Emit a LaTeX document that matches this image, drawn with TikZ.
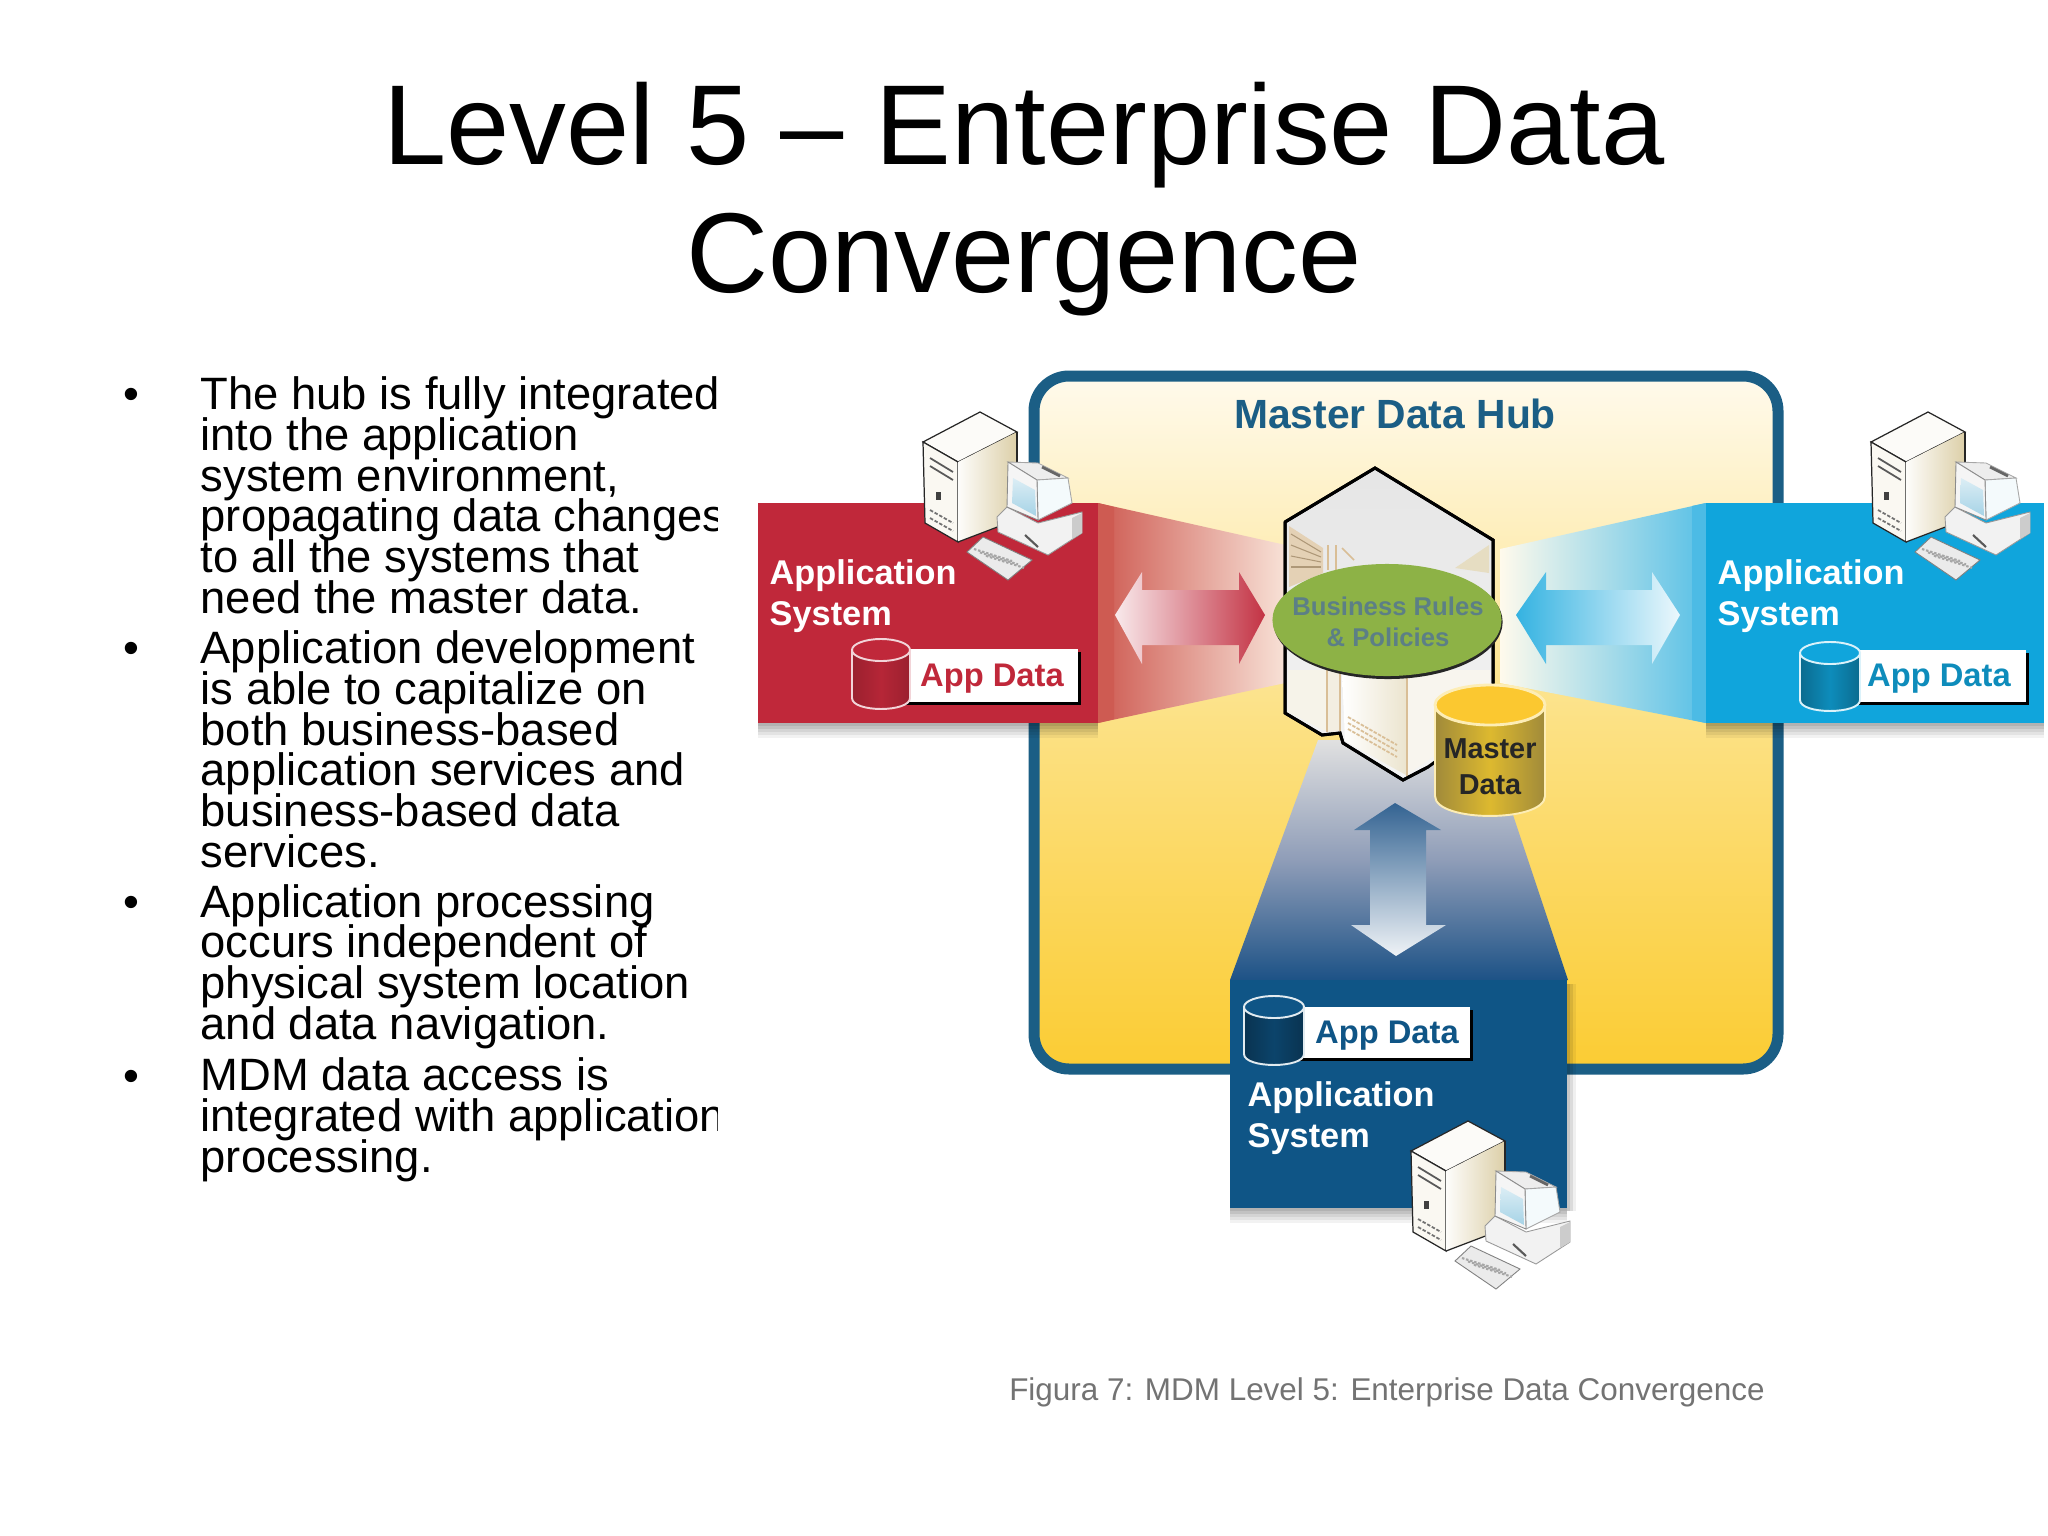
\documentclass[tikz,border=0pt]{standalone}
\usepackage{fontspec}
\setmainfont{Liberation Sans}
\usetikzlibrary{shapes.geometric}
\definecolor{hubedge}{HTML}{1B5E85}
\definecolor{hubtop}{HTML}{FFFAEC}
\definecolor{hubmid}{HTML}{FCE184}
\definecolor{hubbot}{HTML}{FBCC33}
\definecolor{redbox}{HTML}{C0283A}
\definecolor{redbeam}{HTML}{CE5B52}
\definecolor{cyanbox}{HTML}{10A5DC}
\definecolor{navybox}{HTML}{0F5586}
\definecolor{navybeam}{HTML}{1D5286}
\definecolor{navymid}{HTML}{8F9DB8}
\definecolor{rulegreen}{HTML}{8DB246}
\definecolor{rulegrey}{HTML}{5C7F86}
\definecolor{towertan}{HTML}{DCCFA8}
\definecolor{servertan}{HTML}{D9BE96}
\definecolor{goldside}{HTML}{A08A3A}
\definecolor{goldmid}{HTML}{DDB92F}
\definecolor{screenblue}{HTML}{A6D3E6}
\tikzset{
    titletext/.style={align=center, inner sep=0, font=\fontsize{32.3}{36.4}\selectfont},
    bodytext/.style={anchor=base west, align=left, inner sep=0, font={\fontsize{12.9}{11.55}\selectfont\lineskiplimit -20pt\relax}},
    bullettext/.style={anchor=base, inner sep=0, font=\fontsize{12.9}{11.55}\selectfont},
    systemtext/.style={anchor=west, align=left, inner sep=0, text=white, font=\fontsize{9.76}{11.7}\selectfont\bfseries},
    datatext/.style={inner sep=0, font=\fontsize{9.3}{11}\selectfont\bfseries},
    thinedge/.style={draw=black!85, line width=0.35pt},
    panelline/.style={draw=servertan, line width=0.5pt},
}
\newcommand{\appdrum}[8]{
    \shade[left color=#6, right color=#6, middle color=#7]
        ({#1-#4},#2) -- ({#1-#4},#3) .. controls ({#1-#4},{#3+1.33*#5}) and ({#1+#4},{#3+1.33*#5}) .. ({#1+#4},#3) -- ({#1+#4},#2) -- cycle;
    \draw[draw=#8, line width=0.55pt]
        ({#1-#4},#2) -- ({#1-#4},#3) .. controls ({#1-#4},{#3+1.33*#5}) and ({#1+#4},{#3+1.33*#5}) .. ({#1+#4},#3) -- ({#1+#4},#2);
}
\newcommand{\boxshadow}[3]{
    \foreach \s/\o in {0/0.30, 3/0.24, 6/0.17, 9/0.11, 12/0.05}
        \fill[black, opacity=\o] (#1,{#3+\s}) rectangle (#2,{#3+\s+3});
}
\newcommand{\deskpc}[2]{
    \begin{scope}[shift={(#1,#2)}]
        \fill[draw=black!85, line width=0.35pt, fill=white!92!towertan] (980,412) -- (923,442) -- (958,462) -- (1017,432) -- cycle;
        \fill[draw=black!85, line width=0.35pt, fill=white!85!towertan] (923,442) -- (958,462) -- (958,542) -- (925,523) -- cycle;
        \shade[left color=white!95!towertan, right color=towertan] (958,462) -- (1017,432) -- (1017,520) -- (958,542) -- cycle;
        \draw[thinedge] (1017,432) -- (1017,480);
        \draw[thinedge] (958,542) -- (1000,526);
        \draw[black!65, line width=0.5pt] (930,458) -- (953,472);
        \draw[black!65, line width=0.5pt] (930,466) -- (953,480);
        \fill[black!75] (936,492) rectangle (941,500);
        \draw[black!55, line width=0.5pt, dash pattern=on 1pt off 0.5pt] (930,510) -- (953,523);
        \draw[black!55, line width=0.5pt, dash pattern=on 1pt off 0.5pt] (930,518) -- (953,531);
        \fill[fill=black!5, draw=black!40, line width=0.25pt] (997,517) -- (1007,507) -- (1038,523) -- (1082,512) -- (1082,533) -- (1048,555) -- (998,532) -- cycle;
        \fill[black!20] (1072,518) -- (1082,513) -- (1082,533) -- (1072,539) -- cycle;
        \draw[black!65, line width=0.6pt] (1025,535) -- (1038,547);
        \fill[fill=black!7, draw=black!35, line width=0.25pt] (1008,462) -- (1038,463) -- (1068,478) -- (1037,480) -- cycle;
        \draw[black!60, line width=0.8pt] (1042,467) -- (1060,476);
        \fill[fill=screenblue!12!white, draw=black!35, line width=0.25pt] (1037,480) -- (1068,478) -- (1072,503) -- (1038,520) -- cycle;
        \fill[fill=black!4, draw=black!45, line width=0.25pt] (1008,462) -- (1037,480) -- (1038,520) -- (1007,507) -- cycle;
        \shade[top color=screenblue!40!white, bottom color=screenblue] (1013,478) -- (1035,490) -- (1036,516) -- (1012,503) -- cycle;
        \fill[fill=black!8, draw=black!50, line width=0.25pt] (967,552) -- (983,537) -- (1032,560) -- (1008,580) -- cycle;
        \foreach \k in {0,1,2} {
            \draw[black!35, line width=0.6pt, dash pattern=on 0.7pt off 0.5pt] ({974+6*\k},{549-3.6*\k+7*\k}) -- ({1012+6*\k},{568-3.6*\k+7*\k-7});
        }
    \end{scope}
}
\begin{document}
\begin{tikzpicture}[x=0.01cm, y=-0.01cm]

    \useasboundingbox (0,0) rectangle (2048,1536);
    \fill[white] (0,0) rectangle (2048,1536);

    \node[titletext] (title) at (1024,199) {Level 5 – Enterprise Data\\Convergence};

    \begin{scope}
        \clip (100,360) rectangle (717,1200);
        \node[bodytext] (para1) at (200,613) {The hub is fully integrated\\into the application\\system environment,\\propagating data changes\\to all the systems that\\need the master data.};
        \node[bodytext] (para2) at (200,867) {Application development\\is able to capitalize on\\both business-based\\application services and\\business-based data\\services.};
        \node[bodytext] (para3) at (200,1039) {Application processing\\occurs independent of\\physical system location\\and data navigation.};
        \node[bodytext] (para4) at (200,1172) {MDM data access is\\integrated with application\\processing.};
    \end{scope}
    \node[bullettext] (dot1) at (131,409) {•};
    \node[bullettext] (dot2) at (131,663) {•};
    \node[bullettext] (dot3) at (131,917) {•};
    \node[bullettext] (dot4) at (131,1091) {•};

    \draw[draw=hubedge, line width=0.11cm, rounded corners=0.35cm, top color=hubtop, bottom color=hubbot, middle color=hubmid] (1034,376) rectangle (1778,1069);
    \node[inner sep=0, text=hubedge, font=\fontsize{11.6}{14}\selectfont\bfseries] (hubname) at (1395,414) {Master Data Hub};

    \shade[left color=redbeam, right color=hubtop!90!redbox] (1098,503) -- (1290,546) -- (1290,682) -- (1098,723) -- cycle;
    \fill[fill=redbeam] (1098,503) -- (1114,507) -- (1114,719) -- (1098,723) -- cycle;
    \shade[left color=hubtop, right color=cyanbox!70!white] (1500,549) -- (1706,503) -- (1706,723) -- (1500,683) -- cycle;
    \fill[fill=cyanbox!75!white] (1692,506) -- (1706,503) -- (1706,723) -- (1692,720) -- cycle;
    \shade[top color=black!12, bottom color=navybeam, middle color=navymid] (1318,740) -- (1488,740) -- (1568,980) -- (1230,980) -- cycle;

    \boxshadow{758}{1098}{723}
    \boxshadow{1706}{2044}{723}
    \boxshadow{1230}{1567}{1208}
    \fill[fill=redbox] (758,503) rectangle (1098,723);
    \fill[fill=cyanbox] (1706,503) rectangle (2044,723);
    \fill[fill=navybox] (1230,980) rectangle (1567,1208);
    \foreach \s/\o in {0/0.22, 3/0.14, 6/0.06}
        \fill[black, opacity=\o] ({1567+\s},984) rectangle ({1567+\s+3},1211);

    \shade[left color=white!90!redbox, right color=redbox!95!white] (1115,615) -- (1142,572) -- (1142,590) -- (1239,590) -- (1239,572) -- (1265,615) -- (1239,664) -- (1239,645) -- (1142,645) -- (1142,664) -- cycle;
    \shade[left color=cyanbox!85!white, right color=cyanbox!8!white] (1516,615) -- (1546,572) -- (1546,590) -- (1652,590) -- (1652,572) -- (1680,615) -- (1652,664) -- (1652,645) -- (1546,645) -- (1546,664) -- cycle;
    \shade[top color=navybeam!90!white, bottom color=navybeam!7!white] (1395,803) -- (1441,830) -- (1426,830) -- (1426,925) -- (1446,925) -- (1396,956) -- (1351,925) -- (1370,925) -- (1370,830) -- (1354,830) -- cycle;

    \shade[top color=black!10, bottom color=white!96!black, draw=black, line width=0.85pt] (1375,468) -- (1285,522) -- (1285,713) -- (1322,735) -- (1340,733) -- (1343,743) -- (1403,780) -- (1428,767) -- (1493,720) -- (1493,540) -- cycle;
    \fill[fill=servertan!70!white] (1289,526) -- (1323,548) -- (1323,573) -- (1289,587) -- cycle;
    \foreach \k in {0,1,2,3} {
        \draw[servertan!80!black, line width=0.3pt] (1291,{534+11*\k}) -- (1321,{552+11*\k-6*\k});
    }
    \draw[panelline] (1328,545) -- (1328,570);
    \draw[panelline] (1336,545) -- (1336,570);
    \draw[panelline] (1342,548) -- (1354,560);
    \fill[fill=towertan!70!white] (1455,568) -- (1489,545) -- (1489,573) -- cycle;
    \fill[fill=towertan!25!white] (1288,670) -- (1327,670) -- (1327,732) -- (1288,712) -- cycle;
    \fill[fill=towertan!35!white] (1327,670) -- (1340,670) -- (1340,731) -- (1327,732) -- cycle;
    \shade[left color=white, right color=towertan!55!white] (1342,670) -- (1406,670) -- (1406,775) -- (1345,741) -- cycle;
    \fill[fill=towertan!20!white] (1408,670) -- (1490,670) -- (1490,718) -- (1408,774) -- cycle;
    \draw[panelline] (1327,670) -- (1327,732);
    \draw[panelline] (1340,670) -- (1340,731);
    \draw[panelline] (1407,670) -- (1407,776);
    \foreach \k in {0,1,2} {
        \draw[servertan, line width=0.5pt, dash pattern=on 1pt off 0.4pt] (1348,{717+6*\k}) -- (1397,{745+6*\k});
    }
    \draw[black, line width=0.85pt] (1285,522) -- (1285,713) -- (1322,735) -- (1340,733) -- (1343,743) -- (1403,780) -- (1428,767);
    \draw[black, line width=0.85pt] (1285,522) -- (1375,468) -- (1493,540) -- (1493,683);

    \node[ellipse, fill=black!85, inner sep=0, minimum width=2.29cm, minimum height=1.14cm] (rulesrim) at (1388,622) {};
    \node[ellipse, fill=rulegreen, inner sep=0, minimum width=2.29cm, minimum height=1.12cm] (rulesdisc) at (1387,620) {};
    \node[inner sep=0, align=center, text=rulegrey, font=\fontsize{7.3}{8.9}\selectfont\bfseries] (rules) at (1388,622) {Business Rules\\\& Policies};

    \appdrum{1490}{705}{796}{55}{20}{goldside}{goldmid}{hubmid!60!white}
    \fill[fill=hubbot!95!orange, draw=hubmid!60!white, line width=0.8pt] (1490,705) ellipse (55 and 20);
    \node[inner sep=0, align=center, text=black!85, font=\fontsize{8.2}{10.2}\selectfont\bfseries] (masterdata) at (1490,767) {Master\\Data};

    \fill[black] (895,652) rectangle (1081,705);
    \fill[white] (895,649) rectangle (1078,702);
    \appdrum{881}{650}{698}{29}{11}{redbox!80!black}{redbox!95!black}{white!80!redbox}
    \fill[fill=redbox, draw=white!80!redbox, line width=0.55pt] (881,650) ellipse (29 and 11);
    \node[datatext, text=redbox] (appdataleft) at (992,679) {App Data};

    \fill[black] (1845,653) rectangle (2029,705);
    \fill[white] (1845,650) rectangle (2026,702);
    \appdrum{1830}{653}{700}{30}{11}{cyanbox!65!black}{cyanbox!85!black}{white!85!cyanbox}
    \fill[fill=cyanbox, draw=white!85!cyanbox, line width=0.55pt] (1830,653) ellipse (30 and 11);
    \node[datatext, text=cyanbox!85!black] (appdataright) at (1939,679) {App Data};

    \fill[black] (1290,1010) rectangle (1473,1061);
    \fill[white] (1290,1007) rectangle (1470,1058);
    \appdrum{1274}{1007}{1054}{30}{11}{navybox!60!black}{navybox!80!black}{white!88!navybox}
    \fill[fill=navybox, draw=white!88!navybox, line width=0.55pt] (1274,1007) ellipse (30 and 11);
    \node[datatext, text=navybox] (appdatabottom) at (1387,1036) {App Data};

    \node[systemtext] (sysleft) at (769,596) {Application\\System};
    \node[systemtext] (sysright) at (1717,596) {Application\\System};
    \node[systemtext] (sysbottom) at (1247,1118) {Application\\System};

    \deskpc{0}{0}
    \deskpc{948}{0}
    \deskpc{488}{709}

    \node[inner sep=0, text=black!55, font=\fontsize{8.94}{11}\selectfont] (caption) at (1387,1392) {Figura 7: MDM Level 5: Enterprise Data Convergence};

\end{tikzpicture}
\end{document}
